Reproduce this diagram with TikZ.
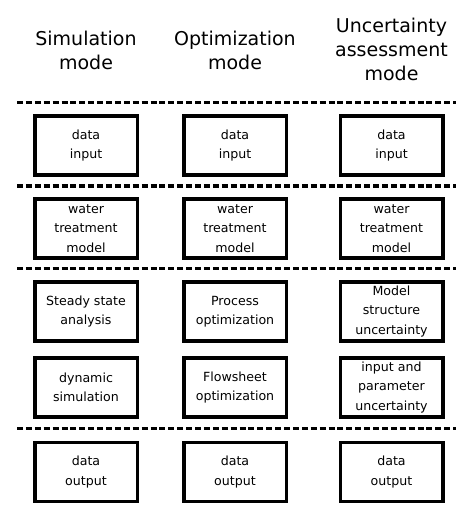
\documentclass[tikz,border=0pt]{standalone}
\usepackage{fontspec}
\setmainfont{DejaVu Sans}
\begin{document}
\begin{tikzpicture}[x=1pt,y=-1pt,
  modebox/.style={draw=black, line width=3.5pt, minimum width=102.5pt, minimum height=59pt,
    align=center, inner sep=0pt, font=\fontsize{12.6}{19.5}\selectfont},
  modetitle/.style={align=center, inner sep=0pt, font=\fontsize{19}{24}\selectfont},
  sepline/.style={line width=3.6pt, dash pattern=on 6pt off 2.9pt}]
\useasboundingbox (0,0) rectangle (474,523);
% titles
\node[modetitle] (t1) at (86,50) {Simulation\\mode};
\node[modetitle] (t2) at (235,50) {Optimization\\mode};
\node[modetitle] (t3) at (391.5,49) {Uncertainty\\assessment\\mode};
% separators
\coordinate (s1a) at (17,102.5); \coordinate (s1b) at (456,102.5);
\coordinate (s2a) at (17,186); \coordinate (s2b) at (456,186);
\coordinate (s3a) at (17,268.5); \coordinate (s3b) at (456,268.5);
\coordinate (s4a) at (17,428.5); \coordinate (s4b) at (456,428.5);
\draw[sepline] (s1a) -- (s1b);
\draw[sepline] (s2a) -- (s2b);
\draw[sepline] (s3a) -- (s3b);
\draw[sepline] (s4a) -- (s4b);
% column 1
\node[modebox] (a1) at (86,145.5) {data\\input};
\node[modebox] (a2) at (86,228.5) {water\\treatment\\model};
\node[modebox] (a3) at (86,311.5) {Steady state\\analysis};
\node[modebox] (a4) at (86,387.5) {dynamic\\simulation};
\node[modebox] (a5) at (86,472) {data\\output};
% column 2
\node[modebox] (b1) at (235,145.5) {data\\input};
\node[modebox] (b2) at (235,228.5) {water\\treatment\\model};
\node[modebox] (b3) at (235,311.5) {Process\\optimization};
\node[modebox] (b4) at (235,387.5) {Flowsheet\\optimization};
\node[modebox] (b5) at (235,472) {data\\output};
% column 3
\node[modebox] (c1) at (391.5,145.5) {data\\input};
\node[modebox] (c2) at (391.5,228.5) {water\\treatment\\model};
\node[modebox] (c3) at (391.5,311.5) {Model\\structure\\uncertainty};
\node[modebox] (c4) at (391.5,387.5) {input and\\parameter\\uncertainty};
\node[modebox] (c5) at (391.5,472) {data\\output};
\end{tikzpicture}
\end{document}
